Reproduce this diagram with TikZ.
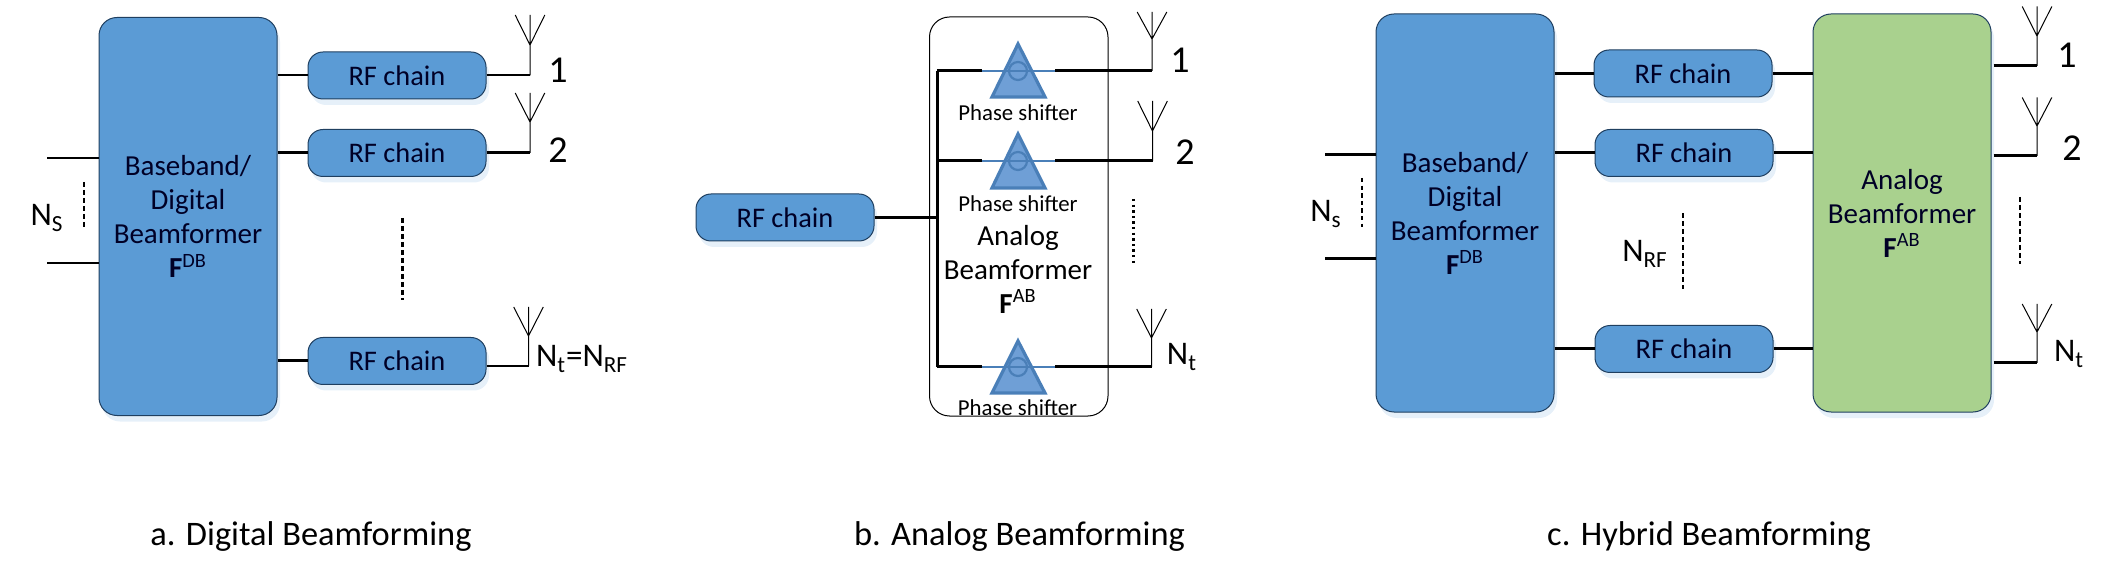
\documentclass[tikz,border=0pt]{standalone}
\usepackage{fontspec}
\setmainfont{Carlito}
\usetikzlibrary{shadows}
\definecolor{boxblue}{HTML}{5B9BD5}
\definecolor{boxgreen}{HTML}{A9D18E}
\definecolor{boxline}{HTML}{1F3F60}
\definecolor{ptri}{HTML}{6F9FD6}
\definecolor{pline}{HTML}{4A7FB8}
\tikzset{
  softshadow/.style={drop shadow={shadow xshift=1.5pt,shadow yshift=-3pt,fill=boxblue!60,opacity=.25}},
  bigbox/.style={draw=boxline,line width=.5pt,rounded corners=9pt,minimum width=89pt,minimum height=199pt,
    inner sep=0pt,align=center,text=black!85!blue,font=\fontsize{14.5}{17}\selectfont,softshadow},
  rf/.style={draw=boxline,line width=.5pt,fill=boxblue,rounded corners=7.5pt,minimum width=89pt,minimum height=23.5pt,
    inner sep=0pt,text=black!85!blue,font=\fontsize{14.2}{17}\selectfont,softshadow},
  thin wire/.style={black,line width=1pt},
  wire/.style={black,line width=1.5pt},
  aerial/.style={black,line width=.5pt},
  dots/.style={black,line width=1.3pt,dash pattern=on 2.5pt off 1.5pt},
  lbl/.style={inner sep=0pt,font=\fontsize{19}{20}\selectfont},
  nlbl/.style={inner sep=0pt,font=\fontsize{16.5}{20}\selectfont},
  captxt/.style={inner sep=0pt,font=\fontsize{17.2}{20}\selectfont},
  ps/.style={inner sep=0pt,font=\fontsize{11.4}{13}\selectfont},
}
% antenna: name, x, y of foot, y of fork point, y of fork top
\newcommand{\aerialat}[5]{
  \coordinate (#1) at (#2,#3);
  \coordinate (#1s) at (#2,#4);
  \coordinate (#1m) at (#2,#5);
  \coordinate (#1l) at ([xshift=-7.4pt]#2,#5);
  \coordinate (#1r) at ([xshift=7.4pt]#2,#5);
  \draw[aerial] (#1) -- (#1m) (#1s) -- (#1l) (#1s) -- (#1r);
}
% phase shifter: name, y of wire, y of apex, y of base, x/y of text
\newcommand{\shifter}[6]{
  \coordinate (#1a) at (1018,#3);
  \coordinate (#1b) at (992,#4);
  \coordinate (#1c) at (1045,#4);
  \coordinate (#1w) at (982,#2);
  \coordinate (#1e) at (1055,#2);
  \draw[draw=pline,fill=ptri,line width=1.6pt,line join=miter] (#1a) -- (#1b) -- (#1c) -- cycle;
  \node[draw=pline,line width=1.1pt,circle,minimum size=9pt,inner sep=0pt] (#1o) at (1018,#2) {};
  \draw[pline,line width=1.4pt] (#1w) -- (#1e);
  \node[ps] (#1t) at (#5,#6) {Phase shifter};
}
\begin{document}
\begin{tikzpicture}[x=0.5pt,y=-0.5pt]
\useasboundingbox (0,0) rectangle (2108,566);

% a. digital
\node[bigbox,fill=boxblue] (bba) at (188,216.5) {Baseband/\\Digital\\Beamformer\\\textbf{F}\textsuperscript{DB}};
\node[rf] (rfa1) at (397,75.5) {RF chain};
\node[rf] (rfa2) at (397,153) {RF chain};
\node[rf] (rfa3) at (397,361) {RF chain};
\coordinate (ina1) at (47,158.5);
\coordinate (ina2) at (47,263);
\draw[thin wire] (ina1) -- (bba.west |- ina1);
\draw[thin wire] (ina2) -- (bba.west |- ina2);
\draw[thin wire] (bba.east |- rfa1) -- (rfa1.west);
\draw[wire] (bba.east |- rfa2) -- (rfa2.west);
\draw[wire] (bba.east |- rfa3) -- (rfa3.west);
\aerialat{anta1}{530}{75.5}{45}{15}
\aerialat{anta2}{530}{153}{122}{93}
\aerialat{anta3}{528.5}{366}{336}{307}
\draw[thin wire] (rfa1.east) -- (anta1);
\draw[wire] (rfa2.east) -- (anta2);
\draw[thin wire] (rfa3.east |- anta3) -- (anta3);
\coordinate (dota1) at (84,182);
\coordinate (dota2) at (84,230);
\coordinate (dota3) at (402.5,218);
\coordinate (dota4) at (402.5,300);
\draw[dots] (dota1) -- (dota2);
\draw[dots] (dota3) -- (dota4);
\node[nlbl] (nsa) at (47,218) {N\textsubscript{S}};
\node[lbl] (la1) at (558,70) {1};
\node[lbl] (la2) at (558,150) {2};
\node[nlbl] (la3) at (582,359) {N\textsubscript{t}=N\textsubscript{RF}};
\node[captxt] (capa) at (311,537) {a. Digital Beamforming};

% b. analog
\draw[black,line width=.5pt,rounded corners=10pt] (929.5,17) rectangle (1108,416);
\node[rf] (rfb) at (785,217.5) {RF chain};
\coordinate (busb) at (937,217.5);
\coordinate (bus1) at (937,71);
\coordinate (bus2) at (937,161);
\coordinate (bus3) at (937,367);
\draw[wire] (rfb.east) -- (busb);
\draw[wire,line join=miter] (bus1) -- (bus3);
\shifter{psa}{71}{44}{97}{1018}{113}
\shifter{psb}{161}{134}{188}{1018}{204}
\shifter{psc}{367}{341}{393}{1017.5}{408}
\aerialat{antb1}{1152}{71}{39}{12}
\aerialat{antb2}{1152.5}{161}{131}{101}
\aerialat{antb3}{1151.5}{367}{338}{309}
\draw[wire] (bus1) -- (psaw) (psae) -- (antb1);
\draw[wire] (bus2) -- (psbw) (psbe) -- (antb2);
\draw[wire] (bus3) -- (pscw) (psce) -- (antb3);
\coordinate (dotb1) at (1133,199);
\coordinate (dotb2) at (1133,264);
\draw[black,line width=1.5pt,dash pattern=on 1.2pt off 1.6pt] (dotb1) -- (dotb2);
\node[align=center,inner sep=0pt,font=\fontsize{14.5}{17}\selectfont] (abb) at (1018,269) {Analog\\Beamformer\\\textbf{F}\textsuperscript{AB}};
\node[lbl] (lb1) at (1180,60) {1};
\node[lbl] (lb2) at (1185,152) {2};
\node[nlbl] (lb3) at (1182,357) {N\textsubscript{t}};
\node[captxt] (capb) at (1019.5,537) {b. Analog Beamforming};

% c. hybrid
\node[bigbox,fill=boxblue] (bbc) at (1465,213) {Baseband/\\Digital\\Beamformer\\\textbf{F}\textsuperscript{DB}};
\node[bigbox,fill=boxgreen] (abc) at (1902,213) {Analog\\Beamformer\\\textbf{F}\textsuperscript{AB}};
\node[rf] (rfc1) at (1683,73.5) {RF chain};
\node[rf] (rfc2) at (1684,153) {RF chain};
\node[rf] (rfc3) at (1684,349) {RF chain};
\coordinate (inc1) at (1325,154.5);
\coordinate (inc2) at (1325,258.5);
\draw[wire] (inc1) -- (bbc.west |- inc1);
\draw[wire] (inc2) -- (bbc.west |- inc2);
\foreach \i in {1,2,3} {
  \draw[wire] (bbc.east |- rfc\i) -- (rfc\i.west);
  \draw[wire] (rfc\i.east) -- (abc.west |- rfc\i);
}
\aerialat{antc1}{2037}{66}{36}{6.5}
\aerialat{antc2}{2037}{156}{126}{97.5}
\aerialat{antc3}{2037}{363}{332}{304}
\draw[wire] ([xshift=1pt]abc.east |- antc1) -- (antc1);
\draw[wire] ([xshift=1pt]abc.east |- antc2) -- (antc2);
\draw[wire] ([xshift=1pt]abc.east |- antc3) -- (antc3);
\coordinate (dotc1) at (1362,178);
\coordinate (dotc2) at (1362,227);
\coordinate (dotc3) at (1683,213);
\coordinate (dotc4) at (1683,289);
\coordinate (dotc5) at (2020,197);
\coordinate (dotc6) at (2020,264);
\draw[black,line width=.9pt,dash pattern=on 2.2pt off 1.6pt] (dotc1) -- (dotc2);
\draw[dots] (dotc3) -- (dotc4);
\draw[dots] (dotc5) -- (dotc6);
\node[nlbl] (nsc) at (1326,214) {N\textsubscript{s}};
\node[nlbl] (nrf) at (1645,254) {N\textsubscript{RF}};
\node[lbl] (lc1) at (2067,55) {1};
\node[lbl] (lc2) at (2072,148) {2};
\node[nlbl] (lc3) at (2069,354) {N\textsubscript{t}};
\node[captxt] (capc) at (1709,537) {c. Hybrid Beamforming};
\end{tikzpicture}
\end{document}
